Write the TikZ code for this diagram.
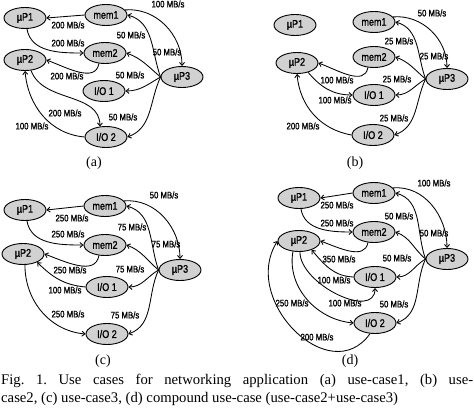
\documentclass[tikz,border=0pt]{standalone}
\usepackage{fontspec}
\setmainfont{Liberation Serif}
\newfontfamily\narrowsans[FakeStretch=0.82,FakeBold=1.2]{Liberation Sans}
\newcommand\ndfont{\narrowsans\fontsize{11}{12}\selectfont}
\newcommand\lbfont{\narrowsans\fontsize{9.5}{10}\selectfont}
\usetikzlibrary{shapes.geometric,arrows.meta}
\tikzset{
  nd/.style={ellipse, draw, fill=black!18, line width=0.9pt, minimum width=42pt, minimum height=21pt, inner sep=0pt, font=\ndfont},
  lbl/.style={inner sep=0pt, font=\lbfont},
  ed/.style={line width=0.85pt, -{Straight Barb[length=3pt,width=5pt]}},
  sub/.style={inner sep=0pt, font=\fontsize{14}{16}\selectfont},
  captxt/.style={inner sep=0pt, anchor=base west, font=\fontsize{14.7}{18}\selectfont}
}
\begin{document}
\begin{tikzpicture}[x=1pt,y=-1pt]
\useasboundingbox (0,0) rectangle (474,412);
% ---------------- (a)
\node[nd] (aP1) at (25,18) {µP1};
\node[nd] (aM1) at (106,15) {mem1};
\node[nd] (aM2) at (105,53) {mem2};
\node[nd] (aP2) at (25,60) {µP2};
\node[nd] (aP3) at (182,77) {µP3};
\node[nd] (aIO1) at (104,91) {I/O 1};
\node[nd] (aIO2) at (106,137) {I/O 2};
\draw[ed] (aM1.west) -- (aP1.east);
\draw[ed] (aP1.-80) to[out=-80,in=180] (aM2.west);
\draw[ed] (aM2.-120) to[out=-100,in=-20] (aP2.east);
\draw[ed] (aM1.15) to[out=5,in=90] (aP3.north);
\draw[ed] (aP3.west) to[out=110,in=-15] (aM1.east);
\draw[ed] (aP3.west) to[out=140,in=-20] (aM2.east);
\draw[ed] (aP3.west) to[out=-150,in=0] (aIO1.east);
\draw[ed] (aP3.west) to[out=-115,in=20] (aIO2.east);
\draw[ed] (aP2.-60) to[out=-70,in=90] (aIO2.120);
\draw[ed] (aIO2.west) to[out=175,in=-85] (aP2.south);
\node[lbl] (la1) at (68,25) {200 MB/s};
\node[lbl] (la2) at (68,43) {200 MB/s};
\node[lbl] (la3) at (67,76) {200 MB/s};
\node[lbl] (la4) at (168,4) {100 MB/s};
\node[lbl] (la5) at (131,35) {50 MB/s};
\node[lbl] (la6) at (167,52) {50 MB/s};
\node[lbl] (la7) at (130,75) {50 MB/s};
\node[lbl] (la8) at (123,117) {50 MB/s};
\node[lbl] (la9) at (65,113) {200 MB/s};
\node[lbl] (la10) at (32,126) {100 MB/s};
\node[sub] (sa) at (94,163) {(a)};
% ---------------- (b)
\node[nd] (bP1) at (295,25) {µP1};
\node[nd] (bM1) at (374,22) {mem1};
\node[nd] (bM2) at (374,57) {mem2};
\node[nd] (bP2) at (297,63) {µP2};
\node[nd] (bP3) at (447,79) {µP3};
\node[nd] (bIO1) at (374,95) {I/O 1};
\node[nd] (bIO2) at (373,135) {I/O 2};
\draw[ed] (bM1.15) to[out=5,in=90] (bP3.north);
\draw[ed] (bP3.west) to[out=110,in=-15] (bM1.east);
\draw[ed] (bP3.west) to[out=140,in=-20] (bM2.east);
\draw[ed] (bP3.west) to[out=-150,in=0] (bIO1.east);
\draw[ed] (bP3.west) to[out=-115,in=20] (bIO2.east);
\draw[ed] (bM2.-120) to[out=-100,in=-20] (bP2.east);
\draw[ed] (bP2.-40) to[out=-50,in=180] (bIO1.west);
\draw[ed] (bIO2.west) to[out=170,in=-85] (bP2.south);
\node[lbl] (lb1) at (432,13) {50 MB/s};
\node[lbl] (lb2) at (399,41) {25 MB/s};
\node[lbl] (lb3) at (434,56) {25 MB/s};
\node[lbl] (lb4) at (397,79) {25 MB/s};
\node[lbl] (lb5) at (394,118) {25 MB/s};
\node[lbl] (lb6) at (337,80) {100 MB/s};
\node[lbl] (lb7) at (335,100) {100 MB/s};
\node[lbl] (lb8) at (303,126) {200 MB/s};
\node[sub] (sb) at (355,163) {(b)};
% ---------------- (c)
\node[nd] (cP1) at (25,210) {µP1};
\node[nd] (cM1) at (105,206) {mem1};
\node[nd] (cM2) at (105,245) {mem2};
\node[nd] (cP2) at (23,254) {µP2};
\node[nd] (cP3) at (180,270) {µP3};
\node[nd] (cIO1) at (107,287) {I/O 1};
\node[nd] (cIO2) at (107,334) {I/O 2};
\draw[ed] (cM1.west) -- (cP1.east);
\draw[ed] (cP1.-80) to[out=-80,in=180] (cM2.west);
\draw[ed] (cM2.-120) to[out=-100,in=-20] (cP2.east);
\draw[ed] (cIO1.west) to[out=175,in=-45] (cP2.-30);
\draw[ed] (cP2.-80) to[out=-90,in=175] (cIO2.west);
\draw[ed] (cM1.15) to[out=5,in=90] (cP3.north);
\draw[ed] (cP3.west) to[out=110,in=-15] (cM1.east);
\draw[ed] (cP3.west) to[out=140,in=-20] (cM2.east);
\draw[ed] (cP3.west) to[out=-150,in=0] (cIO1.east);
\draw[ed] (cP3.west) to[out=-115,in=20] (cIO2.east);
\node[lbl] (lc1) at (72,218) {250 MB/s};
\node[lbl] (lc2) at (68,234) {250 MB/s};
\node[lbl] (lc3) at (70,270) {250 MB/s};
\node[lbl] (lc4) at (65,290) {100 MB/s};
\node[lbl] (lc5) at (68,314) {250 MB/s};
\node[lbl] (lc6) at (164,195) {50 MB/s};
\node[lbl] (lc7) at (132,227) {75 MB/s};
\node[lbl] (lc8) at (166,244) {75 MB/s};
\node[lbl] (lc9) at (130,269) {75 MB/s};
\node[lbl] (lc10) at (125,315) {75 MB/s};
\node[sub] (sc) at (103,361) {(c)};
% ---------------- (d)
\node[nd] (dP1) at (299,198) {µP1};
\node[nd] (dM1) at (374,193) {mem1};
\node[nd] (dM2) at (374,232) {mem2};
\node[nd] (dP2) at (299,241) {µP2};
\node[nd] (dP3) at (447,259) {µP3};
\node[nd] (dIO1) at (375,277) {I/O 1};
\node[nd] (dIO2) at (375,323) {I/O 2};
\draw[ed] (dM1.west) -- (dP1.east);
\draw[ed] (dP1.-80) to[out=-80,in=180] (dM2.west);
\draw[ed] (dM2.-120) to[out=-100,in=-20] (dP2.east);
\draw[ed] (dIO1.west) to[out=178,in=-50] (dP2.-35);
\draw[ed] (dP2.-85) to[out=-90,in=-90] (dIO1.south);
\draw[ed] (dP2.-120) to[out=-100,in=175] (dIO2.west);
\draw[ed] (dIO2.-115) .. controls (330,390) and (240,300) .. (dP2.west);
\draw[ed] (dM1.15) to[out=5,in=90] (dP3.north);
\draw[ed] (dP3.west) to[out=110,in=-15] (dM1.east);
\draw[ed] (dP3.west) to[out=140,in=-20] (dM2.east);
\draw[ed] (dP3.west) to[out=-150,in=0] (dIO1.east);
\draw[ed] (dP3.west) to[out=-115,in=20] (dIO2.east);
\node[lbl] (ld1) at (337,205) {250 MB/s};
\node[lbl] (ld2) at (337,223) {250 MB/s};
\node[lbl] (ld3) at (339,259) {350 MB/s};
\node[lbl] (ld4) at (334,280) {100 MB/s};
\node[lbl] (ld5) at (345,303) {100 MB/s};
\node[lbl] (ld6) at (292,303) {250 MB/s};
\node[lbl] (ld7) at (317,337) {200 MB/s};
\node[lbl] (ld8) at (434,183) {100 MB/s};
\node[lbl] (ld9) at (399,216) {50 MB/s};
\node[lbl] (ld10) at (434,233) {50 MB/s};
\node[lbl] (ld11) at (397,258) {50 MB/s};
\node[lbl] (ld12) at (394,304) {50 MB/s};
\node[sub] (sd) at (350,361) {(d)};
% ---------------- caption
\node[captxt] (cap1) at (1,384) {\frenchspacing\makebox[472pt][s]{Fig. 1. Use cases for networking application (a) use-case1, (b) use-}};
\node[captxt] (cap2) at (1,402) {\frenchspacing case2, (c) use-case3, (d) compound use-case (use-case2+use-case3)};
\end{tikzpicture}
\end{document}
